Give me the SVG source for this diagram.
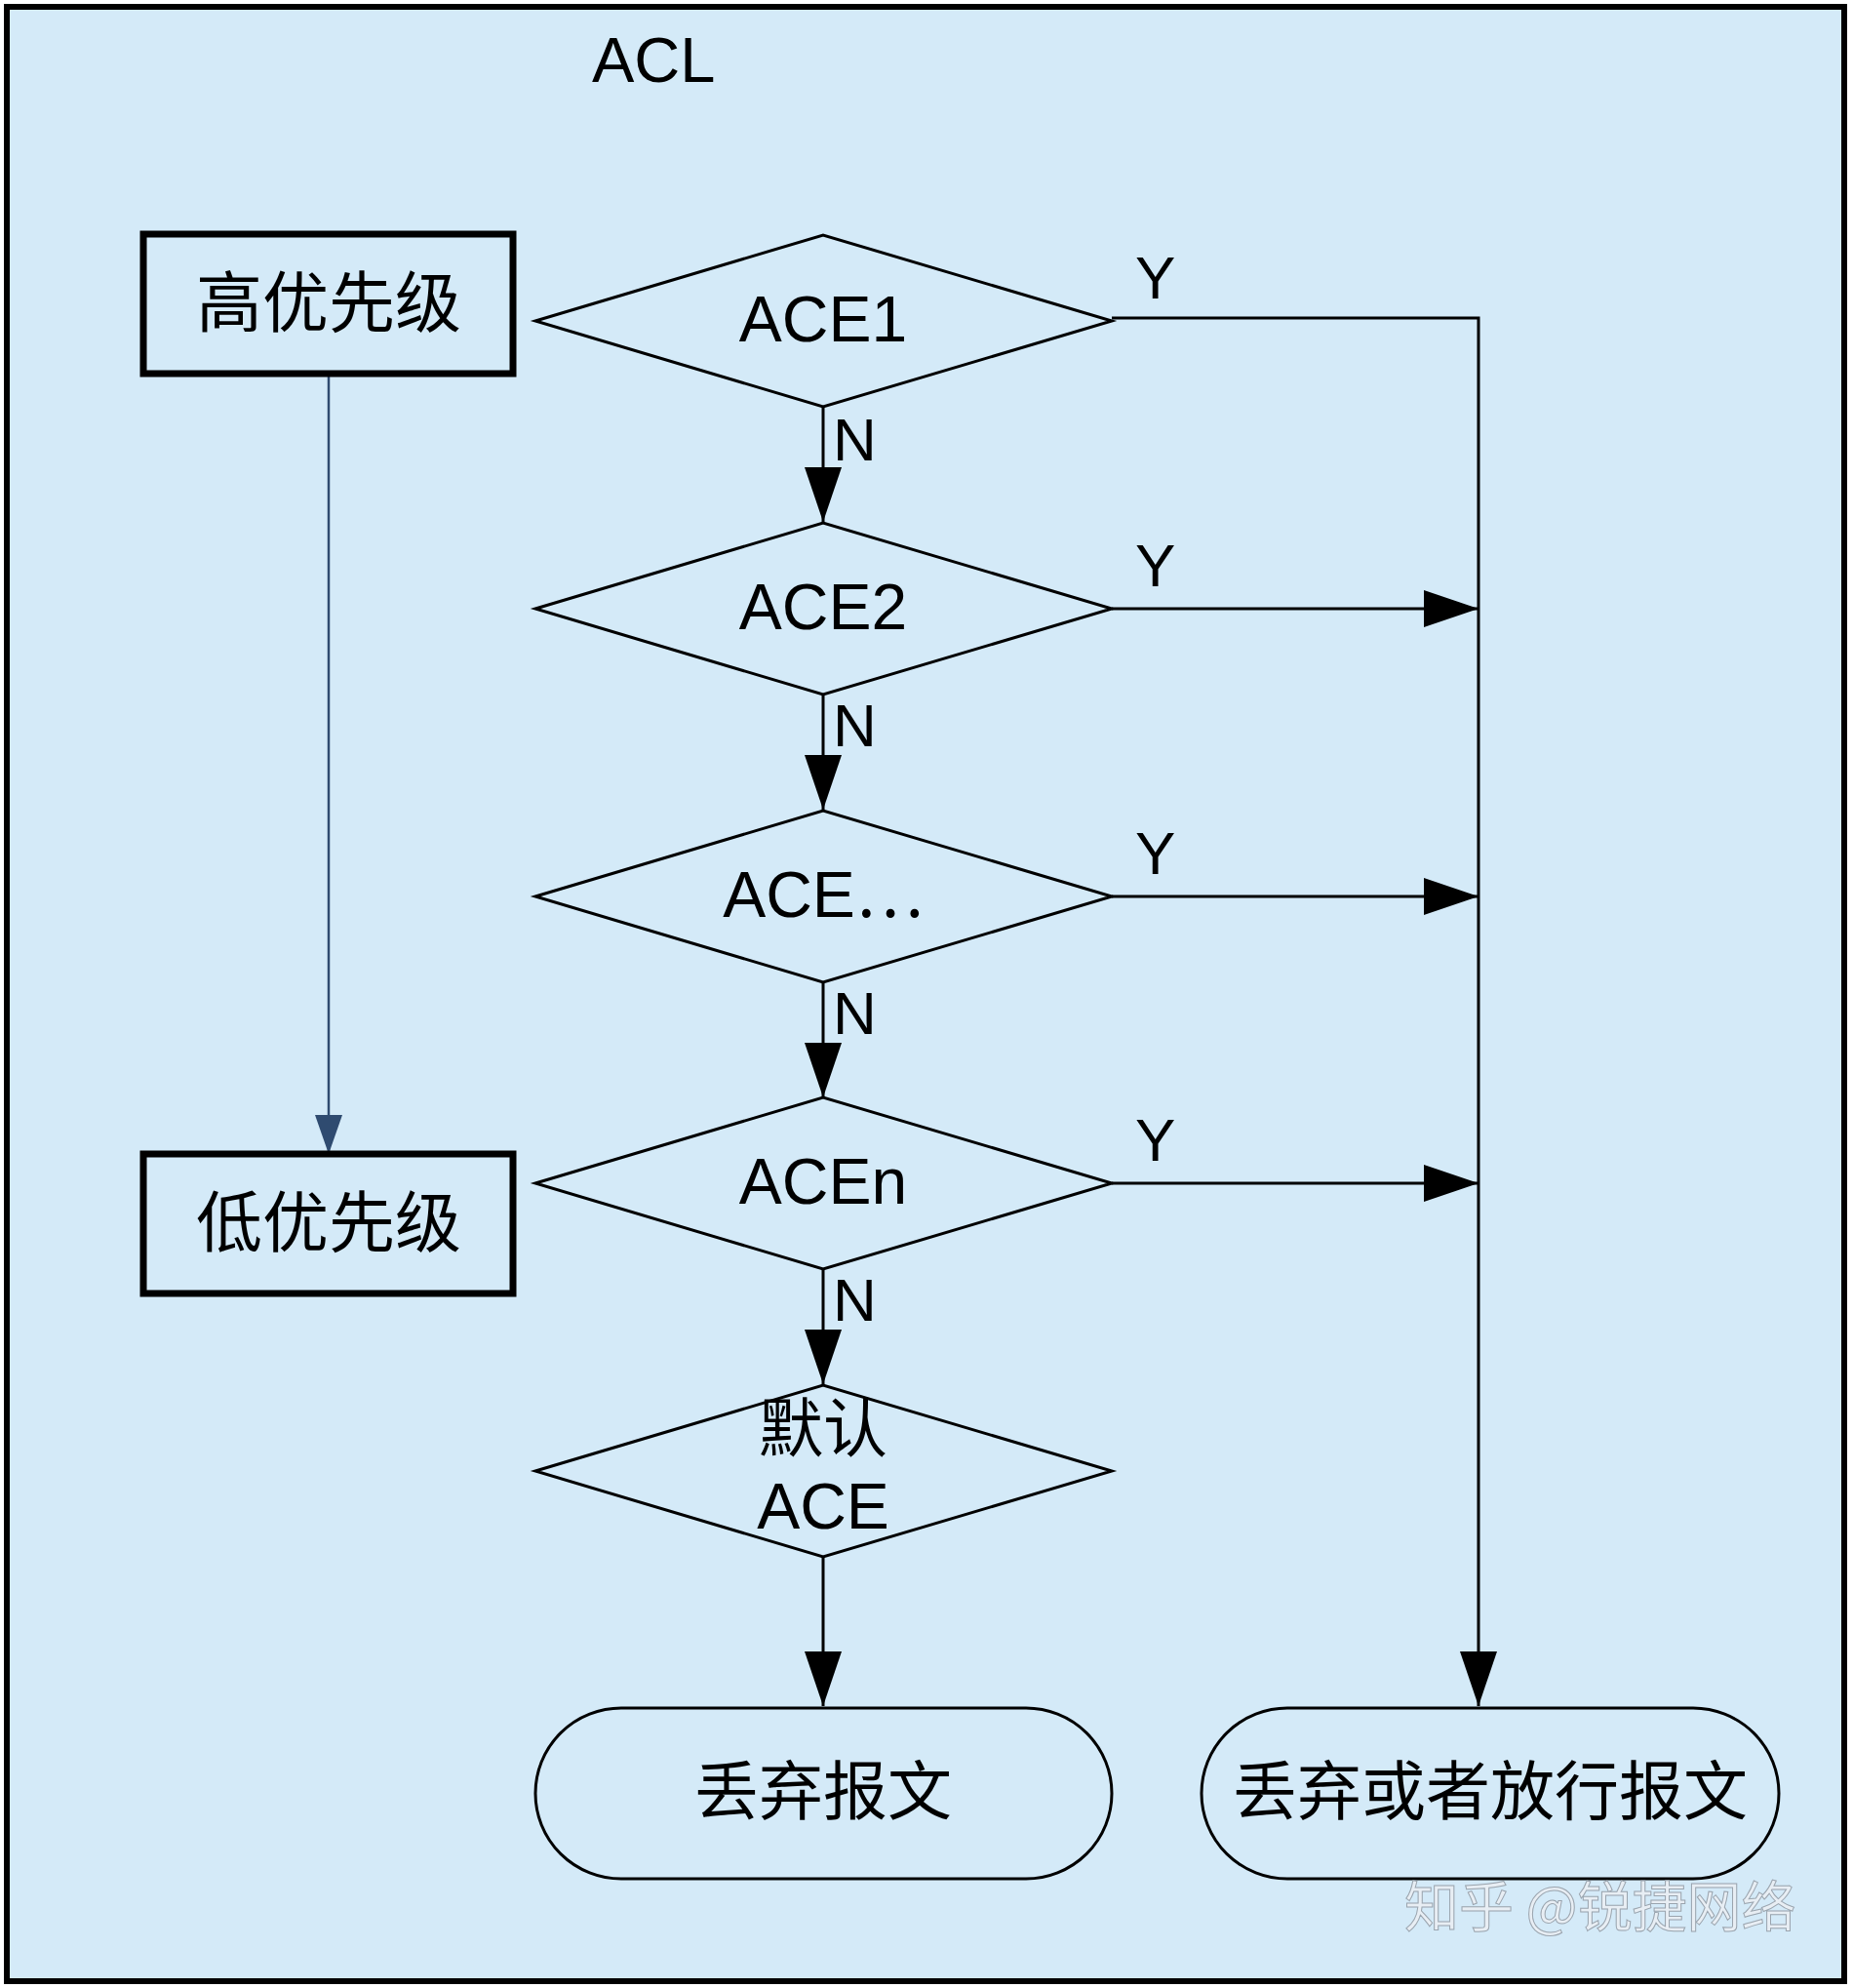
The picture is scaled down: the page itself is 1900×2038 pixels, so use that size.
<svg xmlns="http://www.w3.org/2000/svg" width="1900" height="2038" viewBox="0 0 1900 2038">
<defs>
<style>
.t{font-family:"Liberation Sans","Noto Sans CJK SC",sans-serif;fill:#000}
.c{font-family:"Noto Sans CJK SC","Liberation Sans",sans-serif;fill:#000}
.d{fill:none;stroke:#000;stroke-width:3}
.l{stroke:#000;stroke-width:3;fill:none}
</style>
<marker id="a" markerUnits="userSpaceOnUse" markerWidth="56" markerHeight="38" refX="56" refY="19" orient="auto"><path d="M0,0L56,19L0,38Z" fill="#000"/></marker>
<marker id="b" markerUnits="userSpaceOnUse" markerWidth="40" markerHeight="28" refX="40" refY="14" orient="auto"><path d="M0,0L40,14L0,28Z" fill="#2f4b70"/></marker>
</defs>
<rect x="7" y="7" width="1884" height="2024" fill="#d4eaf8" stroke="#000" stroke-width="6"/>
<text class="t" x="607" y="84" font-size="65">ACL</text>
<g id="connectors">
<line x1="337" y1="383" x2="337" y2="1183" stroke="#2f4b70" stroke-width="2.5" marker-end="url(#b)"/>
<line class="l" x1="844" y1="417" x2="844" y2="535" marker-end="url(#a)"/>
<line class="l" x1="844" y1="712" x2="844" y2="830" marker-end="url(#a)"/>
<line class="l" x1="844" y1="1007" x2="844" y2="1125" marker-end="url(#a)"/>
<line class="l" x1="844" y1="1301" x2="844" y2="1419" marker-end="url(#a)"/>
<line class="l" x1="844" y1="1596" x2="844" y2="1749" marker-end="url(#a)"/>
<polyline class="l" points="1140,326 1516,326 1516,1749" marker-end="url(#a)"/>
<line class="l" x1="1140" y1="624" x2="1516" y2="624" marker-end="url(#a)"/>
<line class="l" x1="1140" y1="919" x2="1516" y2="919" marker-end="url(#a)"/>
<line class="l" x1="1140" y1="1213" x2="1516" y2="1213" marker-end="url(#a)"/>
<g class="t" font-size="62">
<text x="1164" y="306">Y</text><text x="1164" y="601">Y</text><text x="1164" y="896">Y</text><text x="1164" y="1190">Y</text>
<text x="854" y="472">N</text><text x="854" y="765">N</text><text x="854" y="1060">N</text><text x="854" y="1354">N</text>
</g>
</g>
<g id="high"><rect x="147" y="240" width="379" height="143" fill="none" stroke="#000" stroke-width="7"/><text class="c" x="337" y="335" font-size="68" text-anchor="middle">高优先级</text></g>
<g id="low"><rect x="147" y="1183" width="379" height="143" fill="none" stroke="#000" stroke-width="7"/><text class="c" x="337" y="1278" font-size="68" text-anchor="middle">低优先级</text></g>
<g id="ace1"><path class="d" d="M549,329L844,241L1140,329L844,417Z"/><text class="t" x="844" y="350" font-size="66" text-anchor="middle">ACE1</text></g>
<g id="ace2"><path class="d" d="M549,624L844,536L1140,624L844,712Z"/><text class="t" x="844" y="645" font-size="66" text-anchor="middle">ACE2</text></g>
<g id="ace3"><path class="d" d="M549,919L844,831L1140,919L844,1007Z"/><text class="t" x="844" y="940" font-size="66" text-anchor="middle">ACE<tspan font-family="Noto Sans CJK SC">…</tspan></text></g>
<g id="acen"><path class="d" d="M549,1213L844,1125L1140,1213L844,1301Z"/><text class="t" x="844" y="1234" font-size="66" text-anchor="middle">ACEn</text></g>
<g id="def"><path class="d" d="M549,1508L844,1420L1140,1508L844,1596Z"/><text class="c" x="844" y="1488" font-size="66" text-anchor="middle">默认</text><text class="t" x="844" y="1567" font-size="66" text-anchor="middle">ACE</text></g>
<g id="drop"><rect x="549" y="1751" width="591" height="175" rx="88" class="d"/><text class="c" x="844" y="1860" font-size="66" text-anchor="middle">丢弃报文</text></g>
<g id="droppass"><rect x="1232" y="1751" width="592" height="175" rx="88" class="d"/><text class="c" x="1528" y="1860" font-size="66" text-anchor="middle">丢弃或者放行报文</text></g>
<text class="c" x="1440" y="1975" font-size="56" style="fill:#e8eef4;stroke:#9aa4ae;stroke-width:1">知乎 @锐捷网络</text>
</svg>
